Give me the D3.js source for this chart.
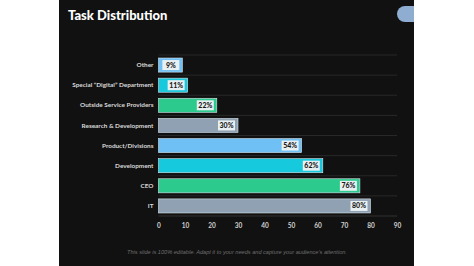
<!DOCTYPE html>
<html>
<head>
<meta charset="utf-8">
<script src="https://cdnjs.cloudflare.com/ajax/libs/d3/7.8.5/d3.min.js"></script>
<style>
  html, body { margin: 0; padding: 0; background: #fff; }
  svg { display: block; }
</style>
</head>
<body>
<div id="chart"></div>
<script>
// chart data, top to bottom
const categories = ["Other", "Special \u201cDigital\u201d Department", "Outside Service Providers",
  "Research & Development", "Product/Divisions", "Development", "CEO", "IT"];
const values = [9, 11, 22, 30, 54, 62, 76, 80];
const barColors = ["#6fc0f4", "#17c9dc", "#2ccb8d", "#8fa1b3", "#6fc0f4", "#17c9dc", "#2ccb8d", "#8fa1b3"];
const ticks = [0, 10, 20, 30, 40, 50, 60, 70, 80, 90];

const WIDTH = 474, HEIGHT = 266;

let svg = d3.select("#chart")
    .append("svg")
    .attr("width", WIDTH)
    .attr("height", HEIGHT);

// dark slide area
svg.append("rect")
    .attr("x", 59).attr("y", 0)
    .attr("width", 355).attr("height", HEIGHT)
    .attr("fill", "#111111");

// little pill at top right, cut off by slide edge
svg.append("clipPath").attr("id", "slideClip")
    .append("rect").attr("x", 59).attr("y", 0).attr("width", 355).attr("height", HEIGHT);
svg.append("rect")
    .attr("clip-path", "url(#slideClip)")
    .attr("x", 397).attr("y", 6)
    .attr("width", 30).attr("height", 16)
    .attr("rx", 8)
    .attr("fill", "#8eadd1");

// title
svg.append("text")
    .attr("x", 68).attr("y", 20)
    .attr("fill", "#ffffff")
    .style("font-family", "Lato, 'Noto Sans', sans-serif")
    .style("font-weight", "900")
    .style("font-size", "13px")
    .text("Task Distribution");

const x = d3.scaleLinear().domain([0, 90]).range([158.5, 397]);
const y = d3.scaleBand().domain(categories).range([55, 216]).paddingInner(0.3).paddingOuter(0.15);

// horizontal grid lines at band boundaries
const gridYs = d3.range(categories.length).map(i => 55 + i * (161 / categories.length));
svg.selectAll(".grid")
    .data(gridYs)
    .enter()
    .append("line")
    .attr("x1", x(0)).attr("x2", x(90))
    .attr("y1", d => d).attr("y2", d => d)
    .attr("stroke", "#2e2e2e")
    .attr("stroke-width", 0.8);

// bars
svg.selectAll(".bar")
    .data(values)
    .enter()
    .append("rect")
    .attr("x", x(0))
    .attr("y", (d, i) => y(categories[i]))
    .attr("width", d => x(d) - x(0))
    .attr("height", y.bandwidth())
    .attr("fill", (d, i) => barColors[i])
    .attr("stroke", "#d8e6ee")
    .attr("stroke-width", 0.6);

// value labels: small white boxes at bar end
const lab = svg.selectAll(".lab")
    .data(values)
    .enter()
    .append("g")
    .attr("transform", (d, i) => `translate(${x(d) - 2},${y(categories[i]) + y.bandwidth() / 2})`);
lab.append("rect")
    .attr("x", -18).attr("y", -5)
    .attr("width", 17).attr("height", 10)
    .attr("fill", "#e9f0f2");
lab.append("text")
    .attr("x", -9.5).attr("dy", "0.35em")
    .attr("text-anchor", "middle")
    .attr("fill", "#1a1a1a")
    .style("font-family", "Lato, sans-serif")
    .style("font-weight", "900")
    .style("font-size", "7px")
    .text(d => d + "%");

// category labels
const yAxis = svg.append("g")
    .attr("transform", `translate(${x(0)},0)`)
    .call(d3.axisLeft(y).tickSize(0).tickPadding(5));
yAxis.select(".domain").remove();
yAxis.selectAll("text")
    .attr("fill", "#d9d9d9")
    .style("font-family", "Lato, sans-serif")
    .style("font-weight", "700")
    .style("font-size", "6.4px");

// x axis
svg.append("line")
    .attr("x1", x(0)).attr("x2", x(90))
    .attr("y1", 216).attr("y2", 216)
    .attr("stroke", "#3a3a3a")
    .attr("stroke-width", 0.8);
const xAxis = svg.append("g")
    .attr("transform", "translate(0,216)")
    .call(d3.axisBottom(x).tickValues(ticks).tickSize(0).tickPadding(7));
xAxis.select(".domain").remove();
xAxis.selectAll("text")
    .attr("fill", "#d0d0d0")
    .style("font-family", "Lato, sans-serif")
    .style("font-weight", "700")
    .style("font-size", "6.5px");

// footer
svg.append("text")
    .attr("x", 237).attr("y", 254)
    .attr("text-anchor", "middle")
    .attr("fill", "#6e6e6e")
    .style("font-family", "'Liberation Sans', Arial, sans-serif")
    .style("font-style", "italic")
    .style("font-size", "5.6px")
    .text("This slide is 100% editable. Adapt it to your needs and capture your audience\u2019s attention.");
</script>
</body>
</html>
